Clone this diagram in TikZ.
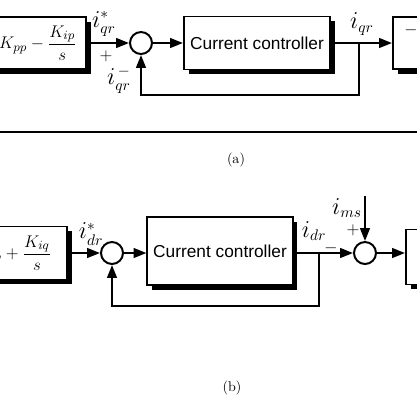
\documentclass[tikz,border=0pt]{standalone}
\usepackage{amsmath}
\usepackage{fontspec}
\setsansfont{Liberation Sans}
\usetikzlibrary{arrows.meta, shadows, positioning, calc}

\begin{document}
\begin{tikzpicture}[x=0.025cm, y=-0.025cm, line width=1.4pt,
  blk/.style={draw, fill=white, inner sep=0pt, font=\sffamily\fontsize{12.3}{14}\selectfont,
    drop shadow={shadow xshift=1.2mm, shadow yshift=-1.2mm, fill=black, opacity=1}},
  sum/.style={draw, circle, inner sep=0pt, minimum size=0.55cm},
  sig/.style={-{Triangle[length=3.2mm, width=2.4mm]}},
  lbl/.style={font=\fontsize{16}{18}\selectfont, inner sep=0pt},
  sgn/.style={font=\fontsize{13}{15}\selectfont, inner sep=0pt}]
\useasboundingbox (0,0) rectangle (417,417);
%
% (a)
\node (pia) [blk, minimum width=2.4cm, minimum height=1.3cm] at (38,43) {$K_{pp}-\dfrac{K_{ip}}{s}$};
\node (sa) [sum] at (141,43) {};
\node (cca) [blk, minimum width=3.65cm, minimum height=1.325cm] at (257,43) {Current controller};
\node (rsca) [blk, anchor=west, minimum width=1.6cm, minimum height=1.3cm] at (392,43) {};
\node (rscatxt) [sgn] at (411,30) {$-$};
%
\coordinate (ja) at (359,43);
\coordinate (fba) at (359,95);
\draw[sig] (pia) -- (sa);
\draw[sig] (sa) -- (cca);
\draw[sig] (cca) -- (rsca);
\draw[sig] (ja) -- (fba) -| (sa.south);
%
\node (iqref) [lbl] at (104,24) {$i_{qr}^{*}$};
\node (pa) [sgn] at (106,56) {$+$};
\node (iqfb) [lbl] at (119,80) {$i_{qr}^{\,-}$};
\node (iqout) [lbl] at (362,24) {$i_{qr}$};
%
\coordinate (sepl) at (0,132);
\coordinate (sepr) at (417,132);
\draw[line width=1pt] (sepl) -- (sepr);
\node (capa) [font=\fontsize{10}{12}\selectfont] at (236,160) {(a)};
%
% (b)
\node (pib) [blk, minimum width=2.7cm, minimum height=1.325cm] at (13,253) {$K_{pq}+\dfrac{K_{iq}}{s}$};
\node (sb) [sum] at (112,253) {};
\node (ccb) [blk, minimum width=3.625cm, minimum height=1.7cm] at (220,251) {Current controller};
\node (sc) [sum] at (365,253) {};
\node (rscb) [blk, anchor=west, minimum width=1.6cm, minimum height=1.375cm] at (405,257) {};
%
\coordinate (jb) at (319,253);
\coordinate (fbb) at (319,306);
\coordinate (mstop) at (365,196);
\draw[sig] (pib.east |- sb) -- (sb);
\draw[sig] (sb) -- (ccb.west |- sb);
\draw[sig] (ccb.east |- sb) -- (sc);
\draw[sig] (sc) -- (rscb.west |- sc);
\draw[sig] (mstop) -- (sc);
\draw[sig] (jb) -- (fbb) -| (sb.south);
%
\node (idref) [lbl] at (91,234) {$i_{dr}^{*}$};
\node (idout) [lbl] at (314,231) {$i_{dr}$};
\node (mb) [sgn] at (331,248) {$-$};
\node (ims) [lbl] at (347,208) {$i_{ms}$};
\node (pb) [sgn] at (353,230) {$+$};
\node (capb) [font=\fontsize{10}{12}\selectfont] at (232,388) {(b)};
\end{tikzpicture}
\end{document}
